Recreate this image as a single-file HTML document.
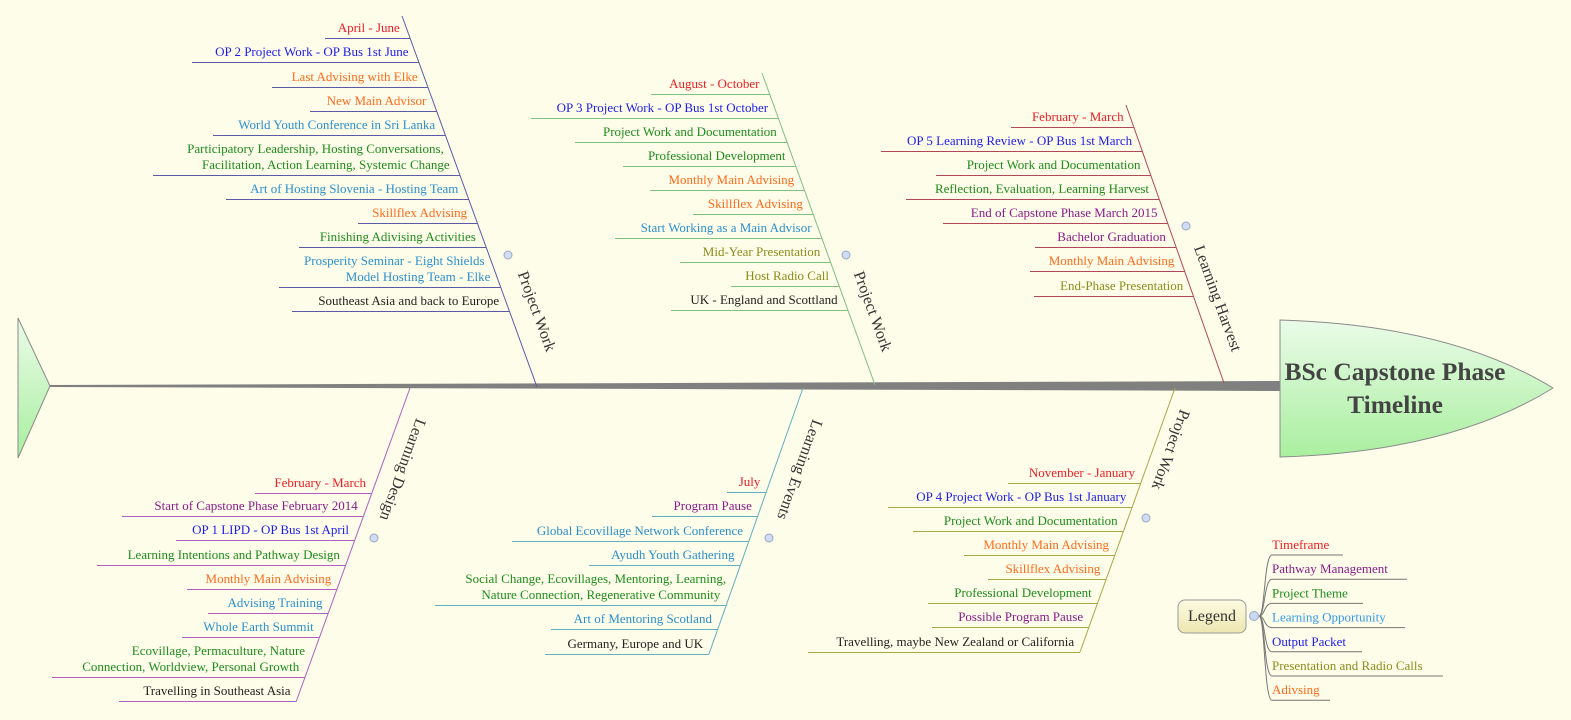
<!DOCTYPE html>
<html><head><meta charset="utf-8"><style>
html,body{margin:0;padding:0;background:#fefde9;}
svg{display:block;font-family:"Liberation Serif",serif;}
</style></head><body>
<svg id="c" width="1571" height="720">
<defs>
<linearGradient id="hg" x1="0" y1="0" x2="0" y2="1"><stop offset="0" stop-color="#eafbe8"/><stop offset="1" stop-color="#a9ef9f"/></linearGradient>
<linearGradient id="lg" x1="0" y1="0" x2="0" y2="1"><stop offset="0" stop-color="#fcfbe2"/><stop offset="1" stop-color="#ede6b0"/></linearGradient>
</defs>
<rect width="1571" height="720" fill="#fefde9"/>
<path d="M18,318 L50,386 L18,458 Z" fill="url(#hg)" stroke="#8a8a8a" stroke-width="1"/>
<polygon points="50,385 1280,381 1280,391 50,387" fill="#808080"/>
<path d="M1280,320 Q1450,325 1553,388 Q1450,452 1280,457 Z" fill="url(#hg)" stroke="#8a8a8a" stroke-width="1"/>
<text x="1395" y="380" text-anchor="middle" font-size="25.5" font-weight="bold" fill="#444">BSc Capstone Phase</text>
<text x="1395" y="413" text-anchor="middle" font-size="25.5" font-weight="bold" fill="#444">Timeline</text>
<g id="b"></g>
<g>
<rect x="1178" y="600" width="68" height="33" rx="7" fill="url(#lg)" stroke="#999"/>
<text x="1212" y="621" text-anchor="middle" font-size="16" fill="#333">Legend</text>
<circle cx="1254" cy="616" r="4.5" fill="#c8d8f8" stroke="#9ab"/>
<g id="lgi"></g>
</g>
</svg>
<script>
const NS='http://www.w3.org/2000/svg';
const C={red:'#ee1c24',blue:'#1c1cf0',orange:'#ff6a1c',lblue:'#2a8fd0',green:'#1c8c1c',purple:'#8b1a8b',olive:'#8c8c1c',black:'#222',lopp:'#3399ee'};
const branches=[
 {name:'Project Work',x1:402,y1:16,x2:537,y2:387,col:'#5a5aa8',lx:532,ly:313,rot:70,cx:508,cy:255,
  items:[['April - June',38,325,'red'],['OP 2 Project Work - OP Bus 1st June',62,192,'blue'],['Last Advising with Elke',87,272,'orange'],['New Main Advisor',111,310,'orange'],['World Youth Conference in Sri Lanka',135,213,'lblue'],['Participatory Leadership, Hosting Conversations,|Facilitation, Action Learning, Systemic Change',175,153,'green'],['Art of Hosting Slovenia - Hosting Team',199,226,'lblue'],['Skillflex Advising',223,358,'orange'],['Finishing Adivising Activities',247,299,'green'],['Prosperity Seminar - Eight Shields|Model Hosting Team - Elke',287,279,'lblue'],['Southeast Asia and back to Europe',311,292,'black']]},
 {name:'Project Work',x1:762,y1:73,x2:875,y2:385,col:'#80c080',lx:868,ly:313,rot:70,cx:846,cy:255,
  items:[['August - October',94,651,'red'],['OP 3 Project Work - OP Bus 1st October',118,531,'blue'],['Project Work and Documentation',142,575,'green'],['Professional Development',166,623,'green'],['Monthly Main Advising',190,650,'orange'],['Skillflex Advising',214,693,'orange'],['Start Working as a Main Advisor',238,615,'lblue'],['Mid-Year Presentation',262,680,'olive'],['Host Radio Call',286,731,'olive'],['UK - England and Scottland',310,671,'black']]},
 {name:'Learning Harvest',x1:1126,y1:105,x2:1224,y2:383,col:'#b04858',lx:1213,ly:300,rot:70,cx:1186,cy:226,
  items:[['February - March',127,1011,'red'],['OP 5 Learning Review - OP Bus 1st March',151,881,'blue'],['Project Work and Documentation',175,936,'green'],['Reflection, Evaluation, Learning Harvest',199,906,'green'],['End of Capstone Phase March 2015',223,943,'purple'],['Bachelor Graduation',247,1035,'purple'],['Monthly Main Advising',271,1030,'orange'],['End-Phase Presentation',296,1034,'olive']]},
 {name:'Learning Design',x1:410,y1:388,x2:296,y2:702,col:'#b060c0',lx:398,ly:468,rot:110,cx:374,cy:538,
  items:[['February - March',493,255,'red'],['Start of Capstone Phase February 2014',516,122,'purple'],['OP 1 LIPD - OP Bus 1st April',540,176,'blue'],['Learning Intentions and Pathway Design',565,97,'green'],['Monthly Main Advising',589,187,'orange'],['Advising Training',613,208,'lblue'],['Whole Earth Summit',637,182,'lblue'],['Ecovillage, Permaculture, Nature|Connection, Worldview, Personal Growth',677,52,'green'],['Travelling in Southeast Asia',701,119,'black']]},
 {name:'Learning Events',x1:803,y1:388,x2:709,y2:654,col:'#60b0c0',lx:795,ly:468,rot:110,cx:769,cy:538,
  items:[['July',492,727,'red'],['Program Pause',516,652,'purple'],['Global Ecovillage Network Conference',541,512,'lblue'],['Ayudh Youth Gathering',565,589,'lblue'],['Social Change, Ecovillages, Mentoring, Learning,|Nature Connection, Regenerative Community',605,435,'green'],['Art of Mentoring Scotland',629,551,'lblue'],['Germany, Europe and UK',654,545,'black']]},
 {name:'Project Work',x1:1175,y1:388,x2:1080,y2:652,col:'#a8a848',lx:1166,ly:448,rot:110,cx:1146,cy:518,
  items:[['November - January',483,1008,'red'],['OP 4 Project Work - OP Bus 1st January',507,888,'blue'],['Project Work and Documentation',531,913,'green'],['Monthly Main Advising',555,964,'orange'],['Skillflex Advising',579,988,'orange'],['Professional Development',603,928,'green'],['Possible Program Pause',627,932,'purple'],['Travelling, maybe New Zealand or California',652,808,'black']]}
];
const legendItems=[['Timeframe','red',1343],['Pathway Management','purple',1407],['Project Theme','green',1363],['Learning Opportunity','lopp',1405],['Output Packet','blue',1362],['Presentation and Radio Calls','olive',1443],['Adivsing','orange',1330]];
function mk(tag,attrs,parent){const e=document.createElementNS(NS,tag);for(const k in attrs)e.setAttribute(k,attrs[k]);parent.appendChild(e);return e;}
const g=document.getElementById('b');
branches.forEach((br,bi)=>{
 const grp=mk('g',{},g);
 
 
 const ln=mk('line',{x1:br.x1,y1:br.y1,x2:br.x2,y2:br.y2,stroke:br.col,'stroke-width':1},grp);
 
 
 const xAt=y=>br.x1+(br.x2-br.x1)*(y-br.y1)/(br.y2-br.y1);
 br.items.forEach(it=>{
  const [txt,uy,lx,c]=it; const rx=xAt(uy);
  const ul=mk('line',{x1:lx,y1:uy+0.5,x2:rx,y2:uy+0.5,stroke:br.col,'stroke-width':1},grp);
  
  
  const lines=txt.split('|');
  lines.forEach((l,i)=>{
   const by=uy-6-(lines.length-1-i)*16;
   const t=mk('text',{x:xAt(by)-8,y:by,'text-anchor':'end','font-size':13,fill:C[c]},grp);
   t.textContent=l;
   
   
  });
 });
 const lab=mk('text',{x:br.lx,y:br.ly,'text-anchor':'middle','font-size':16,fill:'#333',transform:`rotate(${br.rot} ${br.lx} ${br.ly})`},grp);
 lab.textContent=br.name;
 
 
 const ci=mk('circle',{cx:br.cx,cy:br.cy,r:4,fill:'#d0dcf8',stroke:'#9ab'},grp);
 
 
});
const lg=document.getElementById('lgi');
legendItems.forEach((it,i)=>{
 const uy=555+i*24.2;
 const p=mk('path',{d:`M1259,616 C1265,616 1264,${uy} 1272,${uy} L${it[2]},${uy}`,fill:'none',stroke:'#777','stroke-width':1},lg);
 
 
 const t=mk('text',{x:1272,y:uy-6,'font-size':13,fill:C[it[1]]},lg);
 t.textContent=it[0];
 
 
});
</script>
</body></html>
